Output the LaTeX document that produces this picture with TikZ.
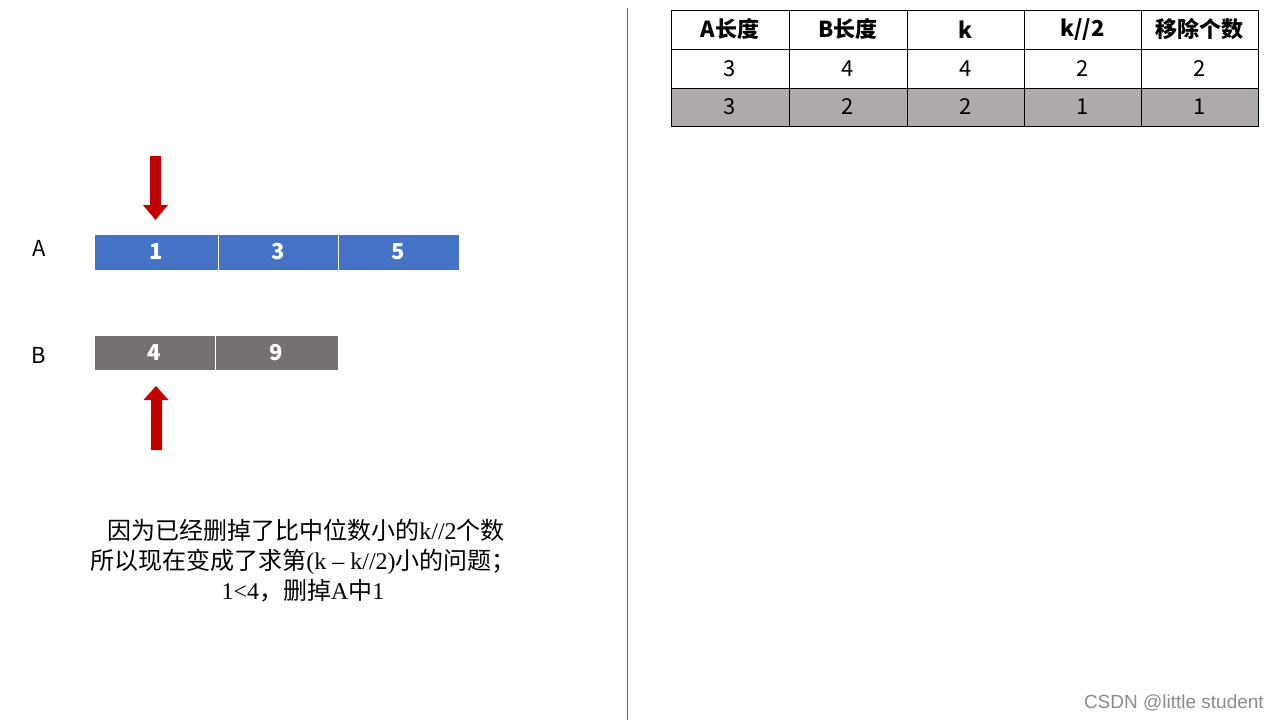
\documentclass[tikz,border=0pt]{standalone}
\usepackage{fontspec}
\setmainfont{Liberation Serif}
\newfontfamily\cjk{Noto Sans CJK SC}
\newfontfamily\lsans{Liberation Sans}
\newcommand\zh[1]{{\cjk #1}}
\definecolor{ablue}{HTML}{4472C4}
\definecolor{bgray}{HTML}{767171}
\definecolor{rowgray}{HTML}{AEAAAA}
\definecolor{ared}{HTML}{C00000}
\definecolor{divider}{HTML}{4F6F65}
\tikzset{
  tcell/.style={draw=black, line width=1pt, inner sep=0pt, minimum height=39pt, font=\cjk\fontsize{22}{26}\selectfont},
  thead/.style={tcell, font=\cjk\bfseries\fontsize{22}{26}\selectfont},
  acell/.style={fill=ablue, draw=white, line width=0.8pt, inner sep=0pt, minimum height=36pt, text=white, font=\cjk\bfseries\fontsize{22}{26}\selectfont},
  bcell/.style={acell, fill=bgray},
  rowlbl/.style={font=\cjk\fontsize{22}{26}\selectfont, inner sep=0pt},
  pointer/.style={fill=ared, draw=none},
}
\begin{document}
\begin{tikzpicture}[x=1pt,y=-1pt]
\useasboundingbox (0,0) rectangle (1280,720);
\fill[white] (0,0) rectangle (1280,720);
% divider
\draw[divider, line width=1pt] (627,8) coordinate (d1) -- (627,720) coordinate (d2);
% table
\node[thead, minimum width=118pt] (h1) at (730,29.5) {A长度};
\node[thead, minimum width=118pt] (h2) at (848,29.5) {B长度};
\node[thead, minimum width=117pt] (h3) at (965.5,29.5) {k};
\node[thead, minimum width=117pt] (h4) at (1082.5,29.5) {k//2};
\node[thead, minimum width=117pt] (h5) at (1199.5,29.5) {移除个数};
\node[tcell, minimum width=118pt] (r11) at (730,68.5) {3};
\node[tcell, minimum width=118pt] (r12) at (848,68.5) {4};
\node[tcell, minimum width=117pt] (r13) at (965.5,68.5) {4};
\node[tcell, minimum width=117pt] (r14) at (1082.5,68.5) {2};
\node[tcell, minimum width=117pt] (r15) at (1199.5,68.5) {2};
\node[tcell, fill=rowgray, minimum width=118pt, minimum height=38pt] (r21) at (730,107) {3};
\node[tcell, fill=rowgray, minimum width=118pt, minimum height=38pt] (r22) at (848,107) {2};
\node[tcell, fill=rowgray, minimum width=117pt, minimum height=38pt] (r23) at (965.5,107) {2};
\node[tcell, fill=rowgray, minimum width=117pt, minimum height=38pt] (r24) at (1082.5,107) {1};
\node[tcell, fill=rowgray, minimum width=117pt, minimum height=38pt] (r25) at (1199.5,107) {1};
% arrays
\node[rowlbl] (la) at (39,248) {A};
\node[rowlbl] (lb) at (39,355) {B};
\node[acell, minimum width=124pt] (a1) at (156,252) {1};
\node[acell, minimum width=120pt] (a2) at (278,252) {3};
\node[acell, minimum width=121pt] (a3) at (398.5,252) {5};
\node[bcell, minimum width=121pt, minimum height=35pt] (b1) at (154.5,352.5) {4};
\node[bcell, minimum width=123pt, minimum height=35pt] (b2) at (276.5,352.5) {9};
% pointers
\fill[pointer] (150,156) -- (161,156) -- (161,205) -- (168,205) -- (155.5,220) -- (143,205) -- (150,205) -- cycle;
\fill[pointer] (151,450) -- (162,450) -- (162,400) -- (168.5,400) -- (156,386) -- (143.5,400) -- (151,400) -- cycle;
% caption
\node[align=center, font=\fontsize{24}{30}\selectfont, inner sep=0pt] (cap) at (303,561)
  {\ \zh{因为已经删掉了比中位数小的}k//2\zh{个数}\\
   \zh{所以现在变成了求第}(k – k//2)\zh{小的问题；}\\
   1<4\zh{，删掉}A\zh{中}1};
% watermark
\node[anchor=east, font=\lsans\fontsize{19}{22}\selectfont, text=black!45, inner sep=0pt] (wm) at (1264,703) {CSDN @little student};
\end{tikzpicture}
\end{document}
